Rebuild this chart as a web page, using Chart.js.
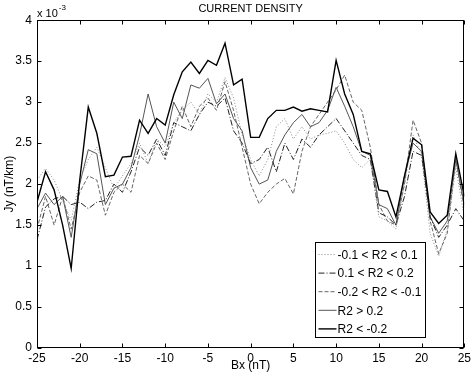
<!DOCTYPE html>
<html>
<head>
<meta charset="utf-8">
<title>Current density</title>
<script src="https://cdn.jsdelivr.net/npm/chart.js@4.4.1/dist/chart.umd.min.js"></script>
<style>
  html, body { margin: 0; padding: 0; background: #fff; }
  #wrap { width: 474px; height: 377px; }
</style>
</head>
<body>
<div id="wrap"><canvas id="jyChart" width="474" height="377"></canvas></div>
<script>
// Bx (nT), one sample per step
const bx = [-25, -24, -23, -22, -21, -20, -19, -18, -17, -16,
            -15, -14, -13, -12, -11, -10, -9, -8, -7, -6,
            -5, -4, -3, -2, -1, 0, 1, 2, 3, 4,
            5, 6, 7, 8, 9, 10, 11, 12, 13, 14,
            15, 16, 17, 18, 19, 20, 21, 22, 23, 24, 25];

// Jy values (x 10^-3 nT/km)
const jyDotted = [2.05, 2.19, 2.05, 1.8, 1.56, 2.05, 2.3, 2.45, 2.2, 1.95,
                  2.1, 2.25, 2.5, 2.25, 2.55, 2.45, 2.75, 2.9, 3.0, 2.85,
                  3.1, 3.0, 3.3, 3.05, 2.6, 2.3, 2.1, 2.3, 2.7, 2.8,
                  2.55, 2.7, 2.55, 2.6, 2.62, 2.65, 2.5, 2.3, 2.2, 2.3,
                  1.6, 1.55, 1.45, 2.0, 2.6, 2.35, 1.4, 1.12, 1.45, 2.2, 1.6];
const jyDashDot = [1.32, 1.72, 1.82, 1.85, 1.75, 1.78, 1.7, 1.78, 1.8, 2.0,
                   1.9, 2.15, 2.45, 2.35, 2.55, 2.35, 2.75, 2.7, 2.65, 2.85,
                   3.0, 2.95, 3.05, 2.65, 2.5, 2.25, 2.3, 2.45, 2.15, 2.5,
                   2.3, 2.55, 2.45, 2.6, 2.7, 2.8, 2.65, 2.5, 2.35, 2.3,
                   1.65, 1.6, 1.5, 1.85, 2.4, 2.35, 1.6, 1.35, 1.5, 1.7, 1.55];
const jyDashed = [1.45, 1.85, 1.5, 1.85, 1.45, 1.9, 2.1, 2.05, 1.62, 1.9,
                  2.0, 1.9, 2.35, 2.25, 2.5, 2.3, 2.65, 2.95, 2.7, 2.95,
                  3.05, 2.9, 3.25, 2.9, 2.45, 2.0, 1.76, 1.9, 2.0, 2.07,
                  1.88, 2.4, 2.7, 2.85, 3.0, 3.15, 3.33, 3.0, 2.9, 2.45,
                  1.75, 1.55, 1.5, 2.0, 2.78, 2.5, 1.55, 1.15, 1.4, 2.3, 1.7];
const jyPos = [1.7, 1.89, 1.75, 1.85, 1.35, 2.0, 2.42, 2.37, 1.75, 1.95,
               2.0, 2.2, 2.6, 3.1, 2.7, 2.5, 3.0, 2.8, 3.21, 3.17,
               3.29, 2.98, 3.1, 2.8, 2.65, 2.2, 2.0, 2.05, 2.4, 2.6,
               2.75, 2.85, 2.7, 2.75, 2.9, 3.18, 2.95, 2.7, 2.4, 2.35,
               1.75, 1.7, 1.5, 2.1, 2.5, 2.4, 1.6, 1.4, 1.55, 2.3, 1.75];
const jyNeg = [1.78, 2.15, 1.93, 1.5, 0.97, 2.05, 2.94, 2.62, 2.09, 2.11,
               2.33, 2.34, 2.78, 2.62, 2.8, 2.72, 3.09, 3.37, 3.49, 3.35,
               3.51, 3.45, 3.72, 3.21, 3.28, 2.57, 2.57, 2.8, 2.9, 2.9,
               2.94, 2.89, 2.92, 2.9, 2.88, 3.51, 3.1, 2.85, 2.4, 2.37,
               1.93, 1.91, 1.6, 2.1, 2.56, 2.48, 1.66, 1.52, 1.62, 2.37, 1.85];

const seriesLabels = ["-0.1 < R2 < 0.1", "0.1 < R2 < 0.2", "-0.2 < R2 < -0.1", "R2 > 0.2", "R2 < -0.2"];
const xTickValues = [-25, -20, -15, -10, -5, 0, 5, 10, 15, 20, 25];
const yTickValues = [0, 0.5, 1, 1.5, 2, 2.5, 3, 3.5, 4];

const FONT = "'Liberation Sans', Arial, sans-serif";
Chart.defaults.font.family = FONT;
Chart.defaults.color = "#000";

function pts(ys) {
  return bx.map((x, i) => ({ x: x, y: ys[i] }));
}

// box round the plot with inward ticks on all four sides
const boxTicks = {
  id: "boxTicks",
  afterDatasetsDraw(chart) {
    const { ctx, chartArea: a, scales: { x, y } } = chart;
    const L = Math.round(a.left) + 0.5, R = Math.round(a.right) - 0.5;
    const T = Math.round(a.top) + 0.5, B = Math.round(a.bottom) - 0.5;
    ctx.save();
    ctx.strokeStyle = "#000";
    ctx.lineWidth = 1;
    ctx.strokeRect(L, T, R - L, B - T);
    ctx.beginPath();
    xTickValues.forEach(v => {
      const px = Math.round(x.getPixelForValue(v)) + 0.5;
      ctx.moveTo(px, B); ctx.lineTo(px, B - 4);
      ctx.moveTo(px, T); ctx.lineTo(px, T + 4);
    });
    yTickValues.forEach(v => {
      const py = Math.round(y.getPixelForValue(v)) + 0.5;
      ctx.moveTo(L, py); ctx.lineTo(L + 4, py);
      ctx.moveTo(R, py); ctx.lineTo(R - 4, py);
    });
    ctx.stroke();
    ctx.restore();
  },
  afterDraw(chart) {
    const { ctx, chartArea: a } = chart;
    ctx.save();
    ctx.fillStyle = "#000";
    ctx.textBaseline = "alphabetic";
    ctx.font = "11px " + FONT;
    ctx.fillText("x 10", a.left, 17);
    const w = ctx.measureText("x 10").width;
    ctx.font = "8px " + FONT;
    ctx.fillText("-3", a.left + w + 1, 10);

    // legend inside the axes, lower right
    const bw = 110, bh = 95;
    const bxL = Math.round(a.right - 39 - bw) + 0.5;
    const byT = Math.round(a.bottom - 11 - bh) + 0.5;
    ctx.fillStyle = "#fff";
    ctx.fillRect(bxL, byT, bw, bh);
    ctx.strokeStyle = "#000";
    ctx.lineWidth = 1;
    ctx.strokeRect(bxL, byT, bw, bh);
    ctx.font = "12px " + FONT;
    ctx.textBaseline = "middle";
    chart.data.datasets.forEach((ds, i) => {
      const yy = byT + 12 + i * 18.6;
      ctx.save();
      ctx.strokeStyle = ds.borderColor;
      ctx.lineWidth = ds.borderWidth;
      ctx.setLineDash(ds.borderDash || []);
      ctx.beginPath();
      ctx.moveTo(bxL + 3, yy);
      ctx.lineTo(bxL + 21, yy);
      ctx.stroke();
      ctx.restore();
      ctx.fillStyle = "#000";
      ctx.fillText(ds.label, bxL + 22, yy + 1);
    });
    ctx.restore();
  }
};

const ctx = document.getElementById("jyChart").getContext("2d");
new Chart(ctx, {
  type: "line",
  data: {
    datasets: [
      { label: seriesLabels[0], data: pts(jyDotted), borderColor: "#8a8a8a", borderWidth: 1, borderDash: [1, 2], order: 1 },
      { label: seriesLabels[1], data: pts(jyDashDot), borderColor: "#222", borderWidth: 1, borderDash: [6, 2, 1, 2], order: 1 },
      { label: seriesLabels[2], data: pts(jyDashed), borderColor: "#666", borderWidth: 1, borderDash: [4, 2], order: 1 },
      { label: seriesLabels[3], data: pts(jyPos), borderColor: "#555", borderWidth: 1, borderDash: [], order: 1 },
      { label: seriesLabels[4], data: pts(jyNeg), borderColor: "#000", borderWidth: 1.4, borderDash: [], order: 0 }
    ]
  },
  options: {
    responsive: false,
    animation: false,
    events: [],
    layout: { padding: { left: 0, right: 6, top: 0, bottom: 0 } },
    elements: { point: { radius: 0 }, line: { tension: 0, fill: false } },
    plugins: {
      legend: { display: false },
      tooltip: { enabled: false },
      title: {
        display: true,
        text: "CURRENT DENSITY",
        fullSize: false,
        font: { size: 11, weight: "normal" },
        padding: { top: 2, bottom: 5 }
      }
    },
    scales: {
      x: {
        type: "linear",
        min: -25,
        max: 25,
        afterBuildTicks: s => { s.ticks = xTickValues.map(v => ({ value: v })); },
        afterFit: s => { s.height = 29; },
        grid: { display: false, drawTicks: false },
        border: { display: false },
        ticks: { font: { size: 12 }, padding: 3, maxRotation: 0, autoSkip: false, callback: v => String(v) },
        title: { display: true, text: "Bx (nT)", font: { size: 12 }, padding: { top: 0, bottom: 4 } }
      },
      y: {
        min: 0,
        max: 4,
        afterBuildTicks: s => { s.ticks = yTickValues.map(v => ({ value: v })); },
        afterFit: s => { s.width = 37; },
        grid: { display: false, drawTicks: false },
        border: { display: false },
        ticks: { font: { size: 12 }, padding: 5, callback: v => String(v) },
        title: { display: true, text: "Jy (nT/km)", font: { size: 12 }, padding: { top: 2, bottom: 0 } }
      }
    }
  },
  plugins: [boxTicks]
});
</script>
</body>
</html>
